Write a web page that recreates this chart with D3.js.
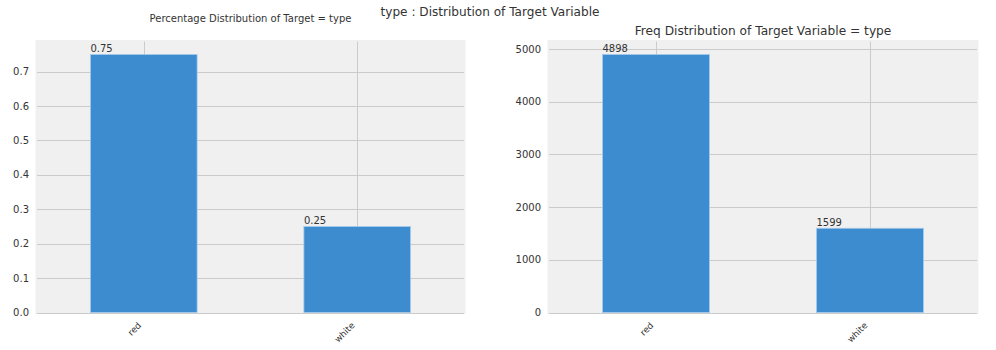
<!DOCTYPE html>
<html>
<head>
<meta charset="utf-8">
<script src="https://cdn.jsdelivr.net/npm/d3@7"></script>
<style>
  html, body { margin: 0; padding: 0; background: #ffffff; }
  svg { display: block; font-family: "DejaVu Sans", sans-serif; }
</style>
</head>
<body>
<svg id="chart" width="996" height="350"></svg>
<script>
// Target variable categories and their distributions
const categories = ["red", "white"];
const pctValues = [0.75, 0.25];
const freqValues = [4898, 1599];
const pctTicks = [0, 0.1, 0.2, 0.3, 0.4, 0.5, 0.6, 0.7];
const freqTicks = [0, 1000, 2000, 3000, 4000, 5000];
const pctLabels = ["0.75", "0.25"];
const freqLabels = ["4898", "1599"];

const svg = d3.select("#chart");
const textColor = "#333333";

svg.append("text")
  .attr("x", 490).attr("y", 15.5)
  .attr("text-anchor", "middle")
  .attr("font-size", 12.1)
  .attr("fill", textColor)
  .text("type : Distribution of Target Variable");

function drawPanel(cfg) {
  const g = svg.append("g");
  const top = 41.5, bottom = 312.5;

  const x = d3.scaleBand()
    .domain(categories)
    .range([cfg.left, cfg.right])
    .paddingInner(0.5)
    .paddingOuter(0.25);

  const y = d3.scaleLinear()
    .domain([0, d3.max(cfg.values) * 1.05])
    .range([bottom, top]);

  // panel background (thick spine in the face colour widens it slightly)
  g.append("rect")
    .attr("x", cfg.left - 1.5).attr("y", top - 1.5)
    .attr("width", cfg.right - cfg.left + 3)
    .attr("height", bottom - top + 3)
    .attr("fill", "#f0f0f0");

  // horizontal grid
  g.selectAll(".hgrid").data(cfg.ticks).enter().append("line")
    .attr("x1", cfg.left).attr("x2", cfg.right)
    .attr("y1", d => Math.round(y(d)) + 0.5)
    .attr("y2", d => Math.round(y(d)) + 0.5)
    .attr("stroke", "#cbcbcb").attr("stroke-width", 1);

  // vertical grid at category positions
  g.selectAll(".vgrid").data(categories).enter().append("line")
    .attr("x1", d => Math.round(x(d) + x.bandwidth() / 2) + 0.5)
    .attr("x2", d => Math.round(x(d) + x.bandwidth() / 2) + 0.5)
    .attr("y1", top).attr("y2", bottom)
    .attr("stroke", "#cbcbcb").attr("stroke-width", 1);

  // bars
  g.selectAll(".bar").data(cfg.values).enter().append("rect")
    .attr("x", (d, i) => x(categories[i]))
    .attr("y", d => y(d))
    .attr("width", x.bandwidth())
    .attr("height", d => y(0) - y(d))
    .attr("fill", "#3d8cd0")
    .attr("stroke", "#a9cdea")
    .attr("stroke-width", 0.8);

  // value labels
  g.selectAll(".val").data(cfg.values).enter().append("text")
    .attr("x", (d, i) => x(categories[i]))
    .attr("y", d => y(d) - 2)
    .attr("font-size", 10)
    .attr("fill", textColor)
    .text((d, i) => cfg.labels[i]);

  // y tick labels
  g.selectAll(".ytick").data(cfg.ticks).enter().append("text")
    .attr("x", cfg.left - 8)
    .attr("y", d => y(d))
    .attr("dy", "0.36em")
    .attr("text-anchor", "end")
    .attr("font-size", 10)
    .attr("fill", textColor)
    .text(cfg.fmt);

  // x tick labels, rotated
  g.selectAll(".xtick").data(categories).enter().append("text")
    .attr("transform", d => {
      const px = x(d) + x.bandwidth() / 2 - 2;
      return `translate(${px},326) rotate(-45)`;
    })
    .attr("text-anchor", "end")
    .attr("font-size", 8.8)
    .attr("fill", textColor)
    .text(d => d);

  // subplot title
  svg.append("text")
    .attr("x", (cfg.left + cfg.right) / 2)
    .attr("y", cfg.titleY)
    .attr("text-anchor", "middle")
    .attr("font-size", cfg.titleSize)
    .attr("fill", textColor)
    .text(cfg.title);
}

drawPanel({
  left: 37, right: 464,
  values: pctValues, labels: pctLabels, ticks: pctTicks,
  fmt: d => d3.format(".1f")(d),
  title: "Percentage Distribution of Target = type",
  titleY: 22, titleSize: 10
});

drawPanel({
  left: 549, right: 977,
  values: freqValues, labels: freqLabels, ticks: freqTicks,
  fmt: d => String(d),
  title: "Freq Distribution of Target Variable = type",
  titleY: 35, titleSize: 12.2
});
</script>
</body>
</html>
